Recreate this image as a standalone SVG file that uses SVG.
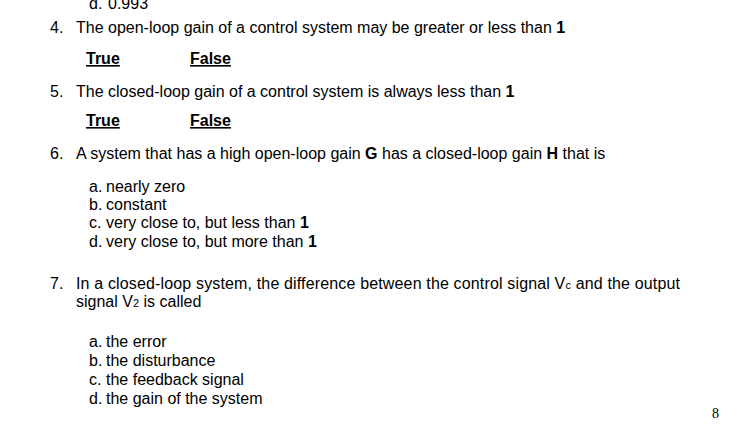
<svg xmlns="http://www.w3.org/2000/svg" width="739" height="433" viewBox="0 0 739 433">
<style>
text{font-family:"Liberation Sans",Arial,sans-serif;font-size:16px;fill:#000}
.b{font-weight:bold}
.u{font-weight:bold;text-decoration:underline}
.s{font-size:11px}
</style>
<rect width="739" height="433" fill="#fff"/>
<g id="q3"><text x="89" y="9">d.</text><text x="108" y="9">0.993</text></g>
<g id="q4"><text x="50" y="33">4.</text><text x="76" y="33">The open-loop gain of a control system may be greater or less than <tspan class="b">1</tspan></text>
<text class="u" x="86" y="64">True</text><text class="u" x="190" y="64">False</text></g>
<g id="q5"><text x="50" y="97">5.</text><text x="76" y="97">The closed-loop gain of a control system is always less than <tspan class="b">1</tspan></text>
<text class="u" x="86" y="126">True</text><text class="u" x="190" y="126">False</text></g>
<g id="q6"><text x="50" y="159">6.</text><text x="76" y="159">A system that has a high open-loop gain <tspan class="b">G</tspan> has a closed-loop gain <tspan class="b">H</tspan> that is</text>
<text x="89" y="192">a.</text><text x="106" y="192">nearly zero</text>
<text x="89" y="210">b.</text><text x="106" y="210">constant</text>
<text x="89" y="228">c.</text><text x="106" y="228">very close to, but less than <tspan class="b">1</tspan></text>
<text x="89" y="247">d.</text><text x="106" y="247">very close to, but more than <tspan class="b">1</tspan></text></g>
<g id="q7"><text x="50" y="289">7.</text><text x="76" y="289" textLength="604">In a closed-loop system, the difference between the control signal V<tspan class="s">c</tspan> and the output</text>
<text x="76" y="307">signal V<tspan class="s">2</tspan> is called</text>
<text x="89" y="347">a.</text><text x="106" y="347">the error</text>
<text x="89" y="366">b.</text><text x="106" y="366">the disturbance</text>
<text x="89" y="385">c.</text><text x="106" y="385">the feedback signal</text>
<text x="89" y="404">d.</text><text x="106" y="404">the gain of the system</text></g>
<text x="712" y="418" style="font-family:'Liberation Serif',serif;font-size:14px">8</text>
</svg>
